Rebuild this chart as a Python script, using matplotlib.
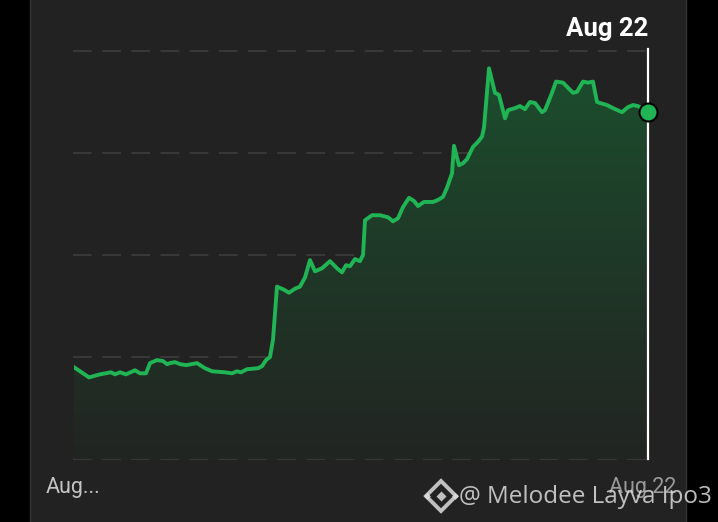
import numpy as np
import matplotlib.pyplot as plt
from matplotlib.patches import Rectangle, Polygon

# price series (t = time step, v = value)
t = [0, 15, 26, 37, 41, 46, 52, 61, 66, 72, 76, 83, 89, 93, 96, 101, 106, 112,
     123, 131, 138, 151, 158, 163, 167, 173, 184, 188, 192, 196, 199, 203, 210,
     215, 221, 226, 231, 236, 241, 248, 256, 263, 268, 272, 276, 281, 286, 289,
     291, 298, 306, 314, 319, 324, 329, 335, 340, 344, 350, 359, 364, 369, 373,
     378, 380, 385, 389, 393, 399, 404, 408, 410, 415, 421, 425, 431, 434, 441,
     446, 451, 456, 461, 468, 471, 478, 482, 489, 493, 499, 503, 509, 514, 519,
     523, 526, 533, 539, 548, 554, 559, 564, 574]
v = [0.90, 0.80, 0.83, 0.85, 0.83, 0.85, 0.83, 0.87, 0.84, 0.84, 0.94, 0.97,
     0.96, 0.93, 0.94, 0.95, 0.93, 0.92, 0.94, 0.89, 0.86, 0.85, 0.84, 0.86,
     0.85, 0.88, 0.89, 0.91, 0.97, 1.00, 1.17, 1.69, 1.66, 1.63, 1.67, 1.69,
     1.78, 1.95, 1.84, 1.87, 1.94, 1.87, 1.83, 1.90, 1.89, 1.96, 1.94, 2.00,
     2.34, 2.39, 2.39, 2.37, 2.33, 2.36, 2.47, 2.56, 2.53, 2.48, 2.52, 2.52,
     2.54, 2.57, 2.66, 2.80, 3.07, 2.88, 2.90, 2.94, 3.06, 3.11, 3.16, 3.25,
     3.83, 3.59, 3.57, 3.34, 3.42, 3.44, 3.46, 3.43, 3.50, 3.49, 3.40, 3.42,
     3.59, 3.70, 3.69, 3.65, 3.59, 3.60, 3.70, 3.69, 3.70, 3.50, 3.49, 3.47,
     3.44, 3.40, 3.45, 3.47, 3.46, 3.40]
grid_levels = [0, 1, 2, 3, 4]
top_label = "Aug 22"
x_labels = ["Aug...", "Aug 22"]
watermark = "@ Melodee Layva Ipo3"

W, H = 718, 522
fig = plt.figure(figsize=(W / 100, H / 100), dpi=100)
fig.patch.set_facecolor("black")

def px(x, y):
    return x / W, 1 - y / H

# dark panel behind the chart
fig.patches.append(Rectangle((30 / W, -0.01), 656 / W, 1.02, transform=fig.transFigure,
                             facecolor="#222222", edgecolor="#333333", lw=1, zorder=-10))

ax = fig.add_axes([74 / W, (H - 459) / H, 574 / W, 408 / H])
ax.set_facecolor("none")
ax.set_xlim(0, 574)
ax.set_ylim(0, 4)
ax.axis("off")

for g in grid_levels:
    ax.plot([-1, 574], [g, g], color="#383838", lw=1.5, dashes=(9, 5), zorder=1,
            clip_on=False)

# gradient fill under line
top = np.array([27, 80, 46]) / 255
bot = np.array([34, 37, 34]) / 255
frac = np.linspace(0, 1, 256)[:, None]
grad = bot + (top - bot) * frac ** 1.1
img = np.repeat(grad[:, None, :], 2, axis=1)
im = ax.imshow(img, extent=[0, 574, 0, 4], origin="lower", aspect="auto", zorder=2)
poly = Polygon(list(zip(t, v)) + [(t[-1], 0), (t[0], 0)], closed=True,
               facecolor="none", edgecolor="none")
ax.add_patch(poly)
im.set_clip_path(poly)

ax.plot(t, v, color="#20b455", lw=2.8, solid_joinstyle="round", zorder=4)
ax.plot([t[-1], t[-1]], [0, 4.02], color="white", lw=1.6, zorder=3, clip_on=False)
ax.plot(t[-1], v[-1], "o", ms=13, mfc="#20b455", mec="black", mew=1.5, zorder=5,
        clip_on=False)

fig.text(*px(648, 29), top_label, color="white", fontsize=18.5, fontweight="bold",
         family="Roboto", ha="right", va="center")
fig.text(*px(46, 488), x_labels[0], color="#c4c4c4", fontsize=15.5,
         family="Roboto", ha="left", va="center")
fig.text(*px(676, 487), x_labels[1], color="#9a9a9a", fontsize=15.5,
         family="Roboto", ha="right", va="center")

# watermark
fig.text(*px(459, 497), watermark, color="#dddddd", alpha=0.85, fontsize=17.5,
         family="Open Sans", ha="left", va="center")
cx, cy = px(441, 496)
fig.lines.append(plt.Line2D([cx], [cy], transform=fig.transFigure, marker="D",
                            ms=15, mfc="none", mec="#dddddd", mew=2.8, alpha=0.85))
for dx in (-14, 0, 14):
    x0, y0 = px(441 + dx, 496)
    fig.lines.append(plt.Line2D([x0], [y0], transform=fig.transFigure, marker="D",
                                ms=3.5 if dx else 5, mfc="#dddddd", mec="none",
                                alpha=0.85))

plt.savefig("out.png", dpi=100, facecolor=fig.get_facecolor())
